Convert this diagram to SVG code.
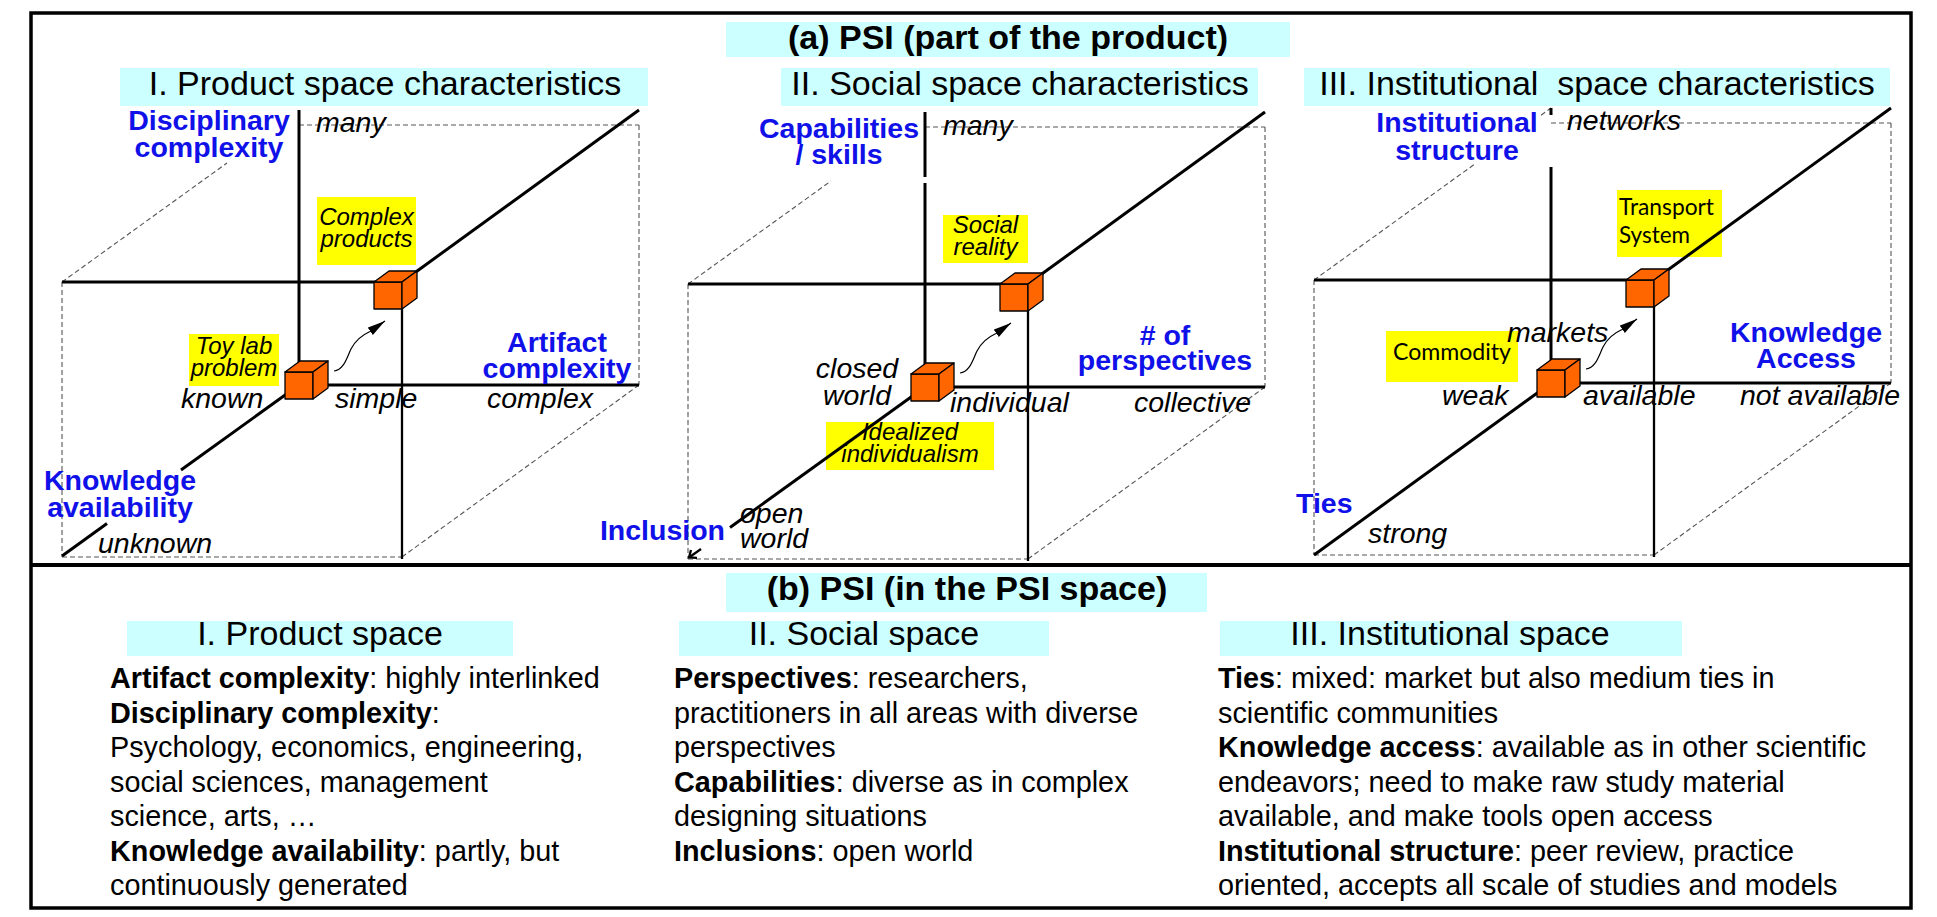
<svg xmlns="http://www.w3.org/2000/svg" xmlns:xlink="http://www.w3.org/1999/xlink" width="1937" height="917" viewBox="0 0 1937 917">
<defs>
<style>
.frame{fill:none;stroke:#000;stroke-width:3.5}
.ax{stroke:#000;stroke-width:3;fill:none}
.ax2{stroke:#000;stroke-width:2.3;fill:none}
.dash{stroke:#555;stroke-width:1.1;stroke-dasharray:5 3;fill:none}
.banner{fill:#CCFFFF}
.hl{fill:#FFFF00}
.cube{fill:#FF6600;stroke:#000;stroke-width:1.3;stroke-linejoin:round}
text{font-family:"Liberation Sans",Arial,sans-serif;fill:#000}
.title{font-size:34px;font-weight:bold;text-anchor:middle}
.sub{font-size:34px;text-anchor:middle}
.blue{font-size:28.5px;font-weight:bold;fill:#1010E8;text-anchor:middle}
.it{font-size:28.5px;font-style:italic}
.mid{text-anchor:middle}
.yl{font-size:24px;font-style:italic;text-anchor:middle}
.cal{font-family:Lato,"Open Sans",sans-serif;font-size:23px}
.body{font-size:28.8px}
.b{font-weight:bold}
.conn{fill:none;stroke:#000;stroke-width:1.2}
</style>
<marker id="ah" viewBox="0 0 18 9" refX="18" refY="4.5" markerWidth="18" markerHeight="9" markerUnits="userSpaceOnUse" orient="auto"><path d="M0,0 L18,4.5 L0,9 z" fill="#000"/></marker>
<g id="cubeShape" class="cube">
<rect x="0" y="0" width="28" height="27"/>
<polygon points="0,0 15,-11 43,-11 28,0"/>
<polygon points="28,0 43,-11 43,16 28,27"/>
</g>
</defs>
<rect width="1937" height="917" fill="#fff"/>

<g id="frame">
<rect class="frame" x="31" y="13" width="1880" height="895"/>
<line x1="31" y1="565" x2="1911" y2="565" stroke="#000" stroke-width="4"/>
</g>

<g id="title-a">
<rect class="banner" x="726" y="22" width="564" height="35"/>
<text class="title" x="1008" y="49">(a) PSI (part of the product)</text>
</g>
<g id="banner-I">
<rect class="banner" x="120" y="68" width="528" height="38"/>
<text class="sub" x="385" y="95">I. Product space characteristics</text>
</g>
<g id="banner-II">
<rect class="banner" x="781" y="68" width="477" height="38"/>
<text class="sub" x="1020" y="95">II. Social space characteristics</text>
</g>
<g id="banner-III">
<rect class="banner" x="1304" y="68" width="586" height="38"/>
<text class="sub" x="1597" y="95" xml:space="preserve">III. Institutional  space characteristics</text>
</g>

<!-- yellow highlight boxes -->
<g id="hl-boxes">
<rect class="hl" x="317" y="197" width="99" height="68"/>
<rect class="hl" x="189" y="334" width="90" height="52"/>
<rect class="hl" x="943" y="215" width="85" height="48"/>
<rect class="hl" x="826" y="422" width="168" height="48"/>
<rect class="hl" x="1617" y="190" width="105" height="67"/>
<rect class="hl" x="1386" y="331" width="132" height="51"/>
</g>

<!-- Panel I box -->
<g id="box-I">
<line class="dash" x1="62" y1="282" x2="62" y2="557"/>
<line class="dash" x1="62" y1="557" x2="402" y2="557"/>
<line class="dash" x1="62" y1="282" x2="227" y2="163"/>
<line class="dash" x1="402" y1="557" x2="639" y2="385"/>
<line class="dash" x1="639" y1="125" x2="639" y2="385"/>
<line class="dash" x1="299" y1="125" x2="639" y2="125"/>
<line class="ax" x1="299" y1="110" x2="299" y2="385"/>
<line class="ax" x1="299" y1="385" x2="639" y2="385"/>
<line class="ax" x1="62" y1="282" x2="402" y2="282"/>
<line class="ax2" x1="402" y1="282" x2="402" y2="559"/>
<line class="ax" x1="62" y1="556" x2="107" y2="523.5"/>
<line class="ax" x1="181" y1="470" x2="299" y2="385"/>
<line class="ax" x1="402" y1="282" x2="639" y2="110"/>
</g>

<!-- Panel II box -->
<g id="box-II">
<line class="dash" x1="688" y1="284" x2="688" y2="559"/>
<line class="dash" x1="688" y1="559" x2="1028" y2="559"/>
<line class="dash" x1="688" y1="284" x2="831" y2="181"/>
<line class="dash" x1="1028" y1="559" x2="1265" y2="387"/>
<line class="dash" x1="1265" y1="127" x2="1265" y2="387"/>
<line class="dash" x1="925" y1="127" x2="1265" y2="127"/>
<line class="ax" x1="925" y1="112" x2="925" y2="177"/>
<line class="ax" x1="925" y1="183" x2="925" y2="387"/>
<line class="ax" x1="925" y1="387" x2="1265" y2="387"/>
<line class="ax" x1="688" y1="284" x2="1028" y2="284"/>
<line class="ax2" x1="1028" y1="284" x2="1028" y2="561"/>
<line class="ax" x1="730" y1="527.5" x2="925" y2="387"/>
<line class="ax2" x1="701" y1="549" x2="689" y2="557.5"/>
<polyline class="ax2" points="697,557.8 689,557.5 691,550"/>
<line class="ax" x1="1028" y1="284" x2="1265" y2="112"/>
</g>

<!-- Panel III box -->
<g id="box-III">
<line class="dash" x1="1314" y1="280" x2="1314" y2="555"/>
<line class="dash" x1="1314" y1="555" x2="1654" y2="555"/>
<line class="dash" x1="1314" y1="280" x2="1474" y2="164.6"/>
<line class="dash" x1="1541" y1="115.2" x2="1551" y2="108"/>
<line class="dash" x1="1654" y1="555" x2="1891" y2="383"/>
<line class="dash" x1="1891" y1="123" x2="1891" y2="383"/>
<line class="dash" x1="1551" y1="123" x2="1891" y2="123"/>
<line class="ax" x1="1551" y1="108" x2="1551" y2="115"/>
<line class="ax" x1="1551" y1="167" x2="1551" y2="383"/>
<line class="ax" x1="1551" y1="383" x2="1891" y2="383"/>
<line class="ax" x1="1314" y1="280" x2="1654" y2="280"/>
<line class="ax2" x1="1654" y1="280" x2="1654" y2="557"/>
<line class="ax" x1="1314" y1="555" x2="1551" y2="383"/>
<line class="ax" x1="1654" y1="280" x2="1891" y2="108"/>
</g>

<!-- cubes (nodes) -->
<g id="cube-toy-lab"><use xlink:href="#cubeShape" href="#cubeShape" x="285" y="372"/></g>
<g id="cube-complex-products"><use xlink:href="#cubeShape" href="#cubeShape" x="374" y="282"/></g>
<g id="cube-idealized"><use xlink:href="#cubeShape" href="#cubeShape" x="911" y="374"/></g>
<g id="cube-social-reality"><use xlink:href="#cubeShape" href="#cubeShape" x="1000" y="284"/></g>
<g id="cube-commodity"><use xlink:href="#cubeShape" href="#cubeShape" x="1537" y="370"/></g>
<g id="cube-transport"><use xlink:href="#cubeShape" href="#cubeShape" x="1626" y="280"/></g>

<!-- connectors -->
<g id="connectors">
<path class="conn" marker-end="url(#ah)" d="M334,371 C344,370 347,357 351,349 C355,341 360,336 370,331.5 L385,321"/>
<path class="conn" marker-end="url(#ah)" transform="translate(626,2)" d="M334,371 C344,370 347,357 351,349 C355,341 360,336 370,331.5 L385,321"/>
<path class="conn" marker-end="url(#ah)" transform="translate(1252,-2)" d="M334,371 C344,370 347,357 351,349 C355,341 360,336 370,331.5 L385,321"/>
</g>

<!-- Panel I labels -->
<g id="labels-I">
<text class="blue" x="209" y="130">Disciplinary</text>
<text class="blue" x="209" y="157">complexity</text>
<text class="it" x="316" y="132">many</text>
<text class="yl" x="366.5" y="225">Complex</text>
<text class="yl" x="366.5" y="247">products</text>
<text class="yl" x="234" y="354">Toy lab</text>
<text class="yl" x="234" y="376">problem</text>
<text class="it" x="181" y="408">known</text>
<text class="it" x="335" y="408">simple</text>
<text class="it" x="487" y="408">complex</text>
<text class="blue" x="557" y="352">Artifact</text>
<text class="blue" x="557" y="378">complexity</text>
<text class="blue" x="120" y="490">Knowledge</text>
<text class="blue" x="120" y="517">availability</text>
<text class="it" x="98" y="553">unknown</text>
</g>

<!-- Panel II labels -->
<g id="labels-II">
<text class="blue" x="839" y="138">Capabilities</text>
<text class="blue" x="839" y="164">/ skills</text>
<text class="it" x="943" y="135">many</text>
<text class="yl" x="985.5" y="233">Social</text>
<text class="yl" x="985.5" y="255">reality</text>
<text class="it mid" x="857" y="378">closed</text>
<text class="it mid" x="857" y="405">world</text>
<text class="it" x="950" y="412">individual</text>
<text class="it" x="1134" y="412">collective</text>
<text class="blue" x="1165" y="345"># of</text>
<text class="blue" x="1165" y="370">perspectives</text>
<text class="yl" x="910" y="440">Idealized</text>
<text class="yl" x="910" y="462">individualism</text>
<text class="blue" x="725" y="540" style="text-anchor:end">Inclusion</text>
<text class="it" x="740" y="523">open</text>
<text class="it" x="740" y="548">world</text>
</g>

<!-- Panel III labels -->
<g id="labels-III">
<text class="blue" x="1457" y="132">Institutional</text>
<text class="blue" x="1457" y="160">structure</text>
<text class="it" x="1567" y="130">networks</text>
<text class="cal" x="1619" y="215" textLength="95" lengthAdjust="spacingAndGlyphs">Transport</text>
<text class="cal" x="1619" y="243" textLength="71" lengthAdjust="spacingAndGlyphs">System</text>
<text class="cal" x="1393" y="360" textLength="118" lengthAdjust="spacingAndGlyphs">Commodity</text>
<text class="it" x="1507" y="342">markets</text>
<text class="it" x="1442" y="405">weak</text>
<text class="it" x="1583" y="405">available</text>
<text class="it" x="1740" y="405">not available</text>
<text class="blue" x="1806" y="342">Knowledge</text>
<text class="blue" x="1806" y="368">Access</text>
<text class="blue" x="1296" y="513" style="text-anchor:start">Ties</text>
<text class="it" x="1368" y="543">strong</text>
</g>

<!-- Section (b) -->
<g id="title-b">
<rect class="banner" x="726" y="573" width="481" height="39"/>
<text class="title" x="967" y="600">(b) PSI (in the PSI space)</text>
</g>
<g id="banner-b-I">
<rect class="banner" x="127" y="621" width="386" height="35"/>
<text class="sub" x="320" y="645">I. Product space</text>
</g>
<g id="banner-b-II">
<rect class="banner" x="679" y="621" width="370" height="35"/>
<text class="sub" x="864" y="645">II. Social space</text>
</g>
<g id="banner-b-III">
<rect class="banner" x="1220" y="621" width="462" height="35"/>
<text class="sub" x="1450" y="645">III. Institutional space</text>
</g>

<g id="text-b-I">
<text class="body" x="110" y="688"><tspan class="b">Artifact complexity</tspan>: highly interlinked</text>
<text class="body" x="110" y="722.5"><tspan class="b">Disciplinary complexity</tspan>:</text>
<text class="body" x="110" y="757">Psychology, economics, engineering,</text>
<text class="body" x="110" y="791.5">social sciences, management</text>
<text class="body" x="110" y="826">science, arts, …</text>
<text class="body" x="110" y="860.5"><tspan class="b">Knowledge availability</tspan>: partly, but</text>
<text class="body" x="110" y="895">continuously generated</text>
</g>
<g id="text-b-II">
<text class="body" x="674" y="688"><tspan class="b">Perspectives</tspan>: researchers,</text>
<text class="body" x="674" y="722.5">practitioners in all areas with diverse</text>
<text class="body" x="674" y="757">perspectives</text>
<text class="body" x="674" y="791.5"><tspan class="b">Capabilities</tspan>: diverse as in complex</text>
<text class="body" x="674" y="826">designing situations</text>
<text class="body" x="674" y="860.5"><tspan class="b">Inclusions</tspan>: open world</text>
</g>
<g id="text-b-III">
<text class="body" x="1218" y="688"><tspan class="b">Ties</tspan>: mixed: market but also medium ties in</text>
<text class="body" x="1218" y="722.5">scientific communities</text>
<text class="body" x="1218" y="757"><tspan class="b">Knowledge access</tspan>: available as in other scientific</text>
<text class="body" x="1218" y="791.5">endeavors; need to make raw study material</text>
<text class="body" x="1218" y="826">available, and make tools open access</text>
<text class="body" x="1218" y="860.5"><tspan class="b">Institutional structure</tspan>: peer review, practice</text>
<text class="body" x="1218" y="895">oriented, accepts all scale of studies and models</text>
</g>
</svg>
